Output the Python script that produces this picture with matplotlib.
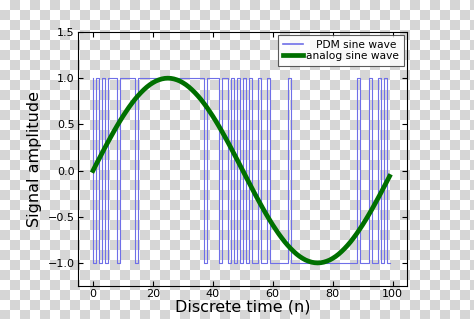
import numpy as np
import matplotlib
matplotlib.use('Agg')
import matplotlib.pyplot as plt

# discrete time axis
n = list(range(100))

# PDM bit stream (+1 / -1)
pdm = [1, -1, 1, -1, 1, -1, 1, 1, 1, -1,
       1, 1, 1, 1, 1, -1, 1, 1, 1, 1,
       1, 1, 1, 1, 1, 1, 1, 1, 1, 1,
       1, 1, 1, 1, 1, 1, 1, 1, -1, 1,
       1, 1, 1, -1, 1, 1, -1, 1, -1, 1,
       -1, 1, -1, 1, -1, -1, 1, -1, -1, 1,
       -1, -1, -1, -1, -1, -1, 1, -1, -1, -1,
       -1, -1, -1, -1, -1, -1, -1, -1, -1, -1,
       -1, -1, -1, -1, -1, -1, -1, -1, -1, 1,
       -1, -1, -1, 1, -1, -1, 1, -1, 1, -1]

# analog sine wave samples
analog = [0.000, 0.063, 0.125, 0.187, 0.249, 0.309, 0.368, 0.426, 0.482, 0.536,
          0.588, 0.637, 0.685, 0.729, 0.771, 0.809, 0.844, 0.876, 0.905, 0.930,
          0.951, 0.969, 0.982, 0.992, 0.998, 1.000, 0.998, 0.992, 0.982, 0.969,
          0.951, 0.930, 0.905, 0.876, 0.844, 0.809, 0.771, 0.729, 0.685, 0.637,
          0.588, 0.536, 0.482, 0.426, 0.368, 0.309, 0.249, 0.187, 0.125, 0.063,
          0.000, -0.063, -0.125, -0.187, -0.249, -0.309, -0.368, -0.426, -0.482, -0.536,
          -0.588, -0.637, -0.685, -0.729, -0.771, -0.809, -0.844, -0.876, -0.905, -0.930,
          -0.951, -0.969, -0.982, -0.992, -0.998, -1.000, -0.998, -0.992, -0.982, -0.969,
          -0.951, -0.930, -0.905, -0.876, -0.844, -0.809, -0.771, -0.729, -0.685, -0.637,
          -0.588, -0.536, -0.482, -0.426, -0.368, -0.309, -0.249, -0.187, -0.125, -0.063]

fig = plt.figure(figsize=(4.74, 3.19), dpi=100)
fig.patch.set_alpha(0)

# checkerboard backdrop (transparent-png look)
H, W = 319, 474
yy, xx = np.mgrid[0:H, 0:W]
checker = ((yy // 10 + xx // 10) % 2).astype(float)
bg = np.where(checker[..., None] > 0, 0.84, 1.0) * np.ones((H, W, 3))
fig.figimage(bg, xo=0, yo=0, origin='upper', zorder=-10)

ax = fig.add_axes([0.1646, 0.1034, 0.6951, 0.7963])
ax.set_zorder(5)
ax.patch.set_alpha(0)

ax.step(n, pdm, color='#6f6fe8', lw=0.8, label='   PDM sine wave')
ax.plot(n, analog, color='#007000', lw=3.4, label='analog sine wave')

ax.set_xlim(-5, 105)
ax.set_ylim(-1.25, 1.5)
ax.set_xticks([0, 20, 40, 60, 80, 100])
ax.set_yticks([-1.0, -0.5, 0.0, 0.5, 1.0, 1.5])
ax.set_yticklabels(['\u22121.0', '\u22120.5', '0.0', '0.5', '1.0', '1.5'])
ax.tick_params(direction='in', top=True, right=True, labelsize=8, length=3.5, pad=2.5)
ax.set_xlabel("Discrete time (n)", fontsize=11.5, labelpad=0)
ax.set_ylabel("Signal amplitude", fontsize=11.5, labelpad=4)

leg = ax.legend(loc='upper right', fontsize=7.7, fancybox=False, handlelength=1.9,
                borderpad=0.45, labelspacing=0.1, handletextpad=0.3, borderaxespad=0.3)
leg.get_frame().set_edgecolor('#333333')
leg.get_frame().set_linewidth(0.8)
leg.get_frame().set_facecolor((1, 1, 1, 0))
for h in leg.get_lines():
    h.set_linewidth(max(h.get_linewidth(), 1.2))

fig.savefig("out.png", dpi=100)
